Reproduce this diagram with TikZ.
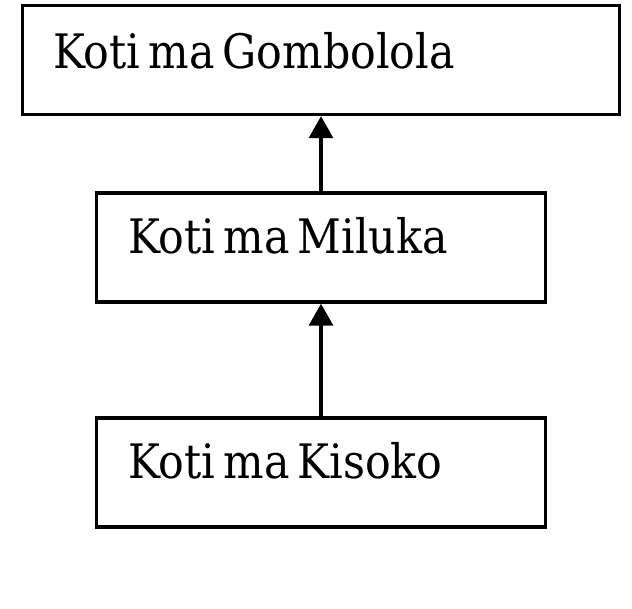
\documentclass[tikz,border=0pt]{standalone}
\usepackage{fontspec}
\setmainfont[WordSpace=0.6]{DejaVu Serif Condensed}
\usetikzlibrary{arrows.meta}
\begin{document}
\begin{tikzpicture}[x=1pt,y=-1pt,
    court/.style={draw,line width=3.4pt,minimum height=109pt,inner sep=0pt},
    courtname/.style={anchor=base west,inner sep=0pt,font=\fontsize{47.5}{54}\selectfont},
    up/.style={-{Triangle[width=24pt,length=22pt]},line width=3.4pt}]
        \useasboundingbox (0,0) rectangle (632,608);
        \node[court,minimum width=597pt] (gombolola) at (321,60) {};
        \node[court,minimum width=449pt] (miluka) at (321,247.5) {};
        \node[court,minimum width=449pt] (kisoko) at (321,472.5) {};
        \node[courtname] (gombololaText) at (53,68) {Koti ma Gombolola};
        \node[courtname] (milukaText) at (128,253) {Koti ma Miluka};
        \node[courtname] (kisokoText) at (128,478) {Koti ma Kisoko};
        \draw[up] (miluka.north) -- (gombolola.south);
        \draw[up] (kisoko.north) -- (miluka.south);
    \end{tikzpicture}
\end{document}
